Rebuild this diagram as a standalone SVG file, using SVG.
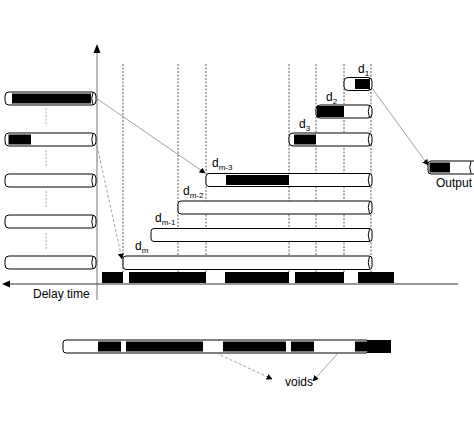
<svg xmlns="http://www.w3.org/2000/svg" width="474" height="435" viewBox="0 0 474 435">
<defs>
<style>
.tube{fill:#fff;stroke:#000;stroke-width:1}
.cap{fill:none;stroke:#000;stroke-width:1}
.blk{fill:#000}
.dot{stroke:#333;stroke-width:0.8;stroke-dasharray:2,1.5;fill:none}
.gdash{stroke:#999;stroke-width:0.8;stroke-dasharray:2,1.5;fill:none}
.conn{stroke:#888;stroke-width:0.8;fill:none}
.connd{stroke:#888;stroke-width:0.8;stroke-dasharray:3,2;fill:none}
.lbl{font-family:"Liberation Sans",Arial,sans-serif;font-size:12px;fill:#000}
.sub{font-size:8px}
</style>
<marker id="ah" viewBox="0 0 10 10" refX="9" refY="5" markerWidth="6" markerHeight="6" orient="auto" markerUnits="userSpaceOnUse">
<path d="M0,0 L10,5 L0,10 z" fill="#000"/>
</marker>
</defs>
<rect width="474" height="435" fill="#fff"/>

<g id="axes">
<line x1="97" y1="50" x2="97" y2="300" stroke="#777" stroke-width="1"/>
<path d="M93.5,53 L97,44 L100.5,53 z" fill="#000"/>
<line x1="8" y1="284" x2="458" y2="284" stroke="#333" stroke-width="1.2"/>
<path d="M10,280.5 L2,284 L10,287.5 z" fill="#000"/>
<text class="lbl" x="33" y="298" font-size="10.5">Delay time</text>
</g>

<g id="grid">
<line class="dot" x1="123" y1="64" x2="123" y2="272"/>
<line class="dot" x1="178" y1="64" x2="178" y2="272"/>
<line class="dot" x1="206" y1="64" x2="206" y2="272"/>
<line class="dot" x1="289" y1="64" x2="289" y2="272"/>
<line class="dot" x1="316" y1="64" x2="316" y2="272"/>
<line class="dot" x1="344" y1="64" x2="344" y2="272"/>
<line class="dot" x1="371" y1="64" x2="371" y2="272"/>
<line class="gdash" x1="46" y1="108" x2="46" y2="126"/>
<line class="gdash" x1="46" y1="150" x2="46" y2="166"/>
<line class="gdash" x1="46" y1="191" x2="46" y2="207"/>
<line class="gdash" x1="46" y1="233" x2="46" y2="249"/>
</g>

<g id="left-tube-1">
<rect class="tube" x="5" y="92" width="91" height="13" rx="4"/>
<rect class="blk" x="12" y="93.5" width="79" height="10"/>
<path class="cap" d="M93,92.5 Q90.5,98.5 93,104.5"/>
</g>
<g id="left-tube-2">
<rect class="tube" x="5" y="133" width="91" height="13" rx="4"/>
<rect class="blk" x="8.5" y="134.5" width="22.5" height="10"/>
<path class="cap" d="M93,133.5 Q90.5,139.5 93,145.5"/>
</g>
<g id="left-tube-3">
<rect class="tube" x="5" y="174" width="91" height="13" rx="4"/>
<path class="cap" d="M93,174.5 Q90.5,180.5 93,186.5"/>
</g>
<g id="left-tube-4">
<rect class="tube" x="5" y="215" width="91" height="13" rx="4"/>
<path class="cap" d="M93,215.5 Q90.5,221.5 93,227.5"/>
</g>
<g id="left-tube-5">
<rect class="tube" x="5" y="256" width="91" height="13" rx="4"/>
<path class="cap" d="M93,256.5 Q90.5,262.5 93,268.5"/>
</g>

<g id="d1">
<rect class="tube" x="344" y="77.5" width="28" height="13" rx="4"/>
<rect class="blk" x="355" y="79" width="15" height="10"/>
<path class="cap" d="M369.5,78 Q367,84 369.5,90"/>
<text class="lbl" x="358" y="73">d<tspan class="sub" dy="2.5">1</tspan></text>
</g>
<g id="d2">
<rect class="tube" x="316" y="105" width="56" height="13" rx="4" stroke="#555"/>
<rect class="blk" x="317" y="106" width="27" height="11"/>
<path class="cap" d="M369.5,105.5 Q367,111.5 369.5,117.5"/>
<text class="lbl" x="326" y="101">d<tspan class="sub" dy="2.5">2</tspan></text>
</g>
<g id="d3">
<rect class="tube" x="289" y="133" width="83" height="13" rx="4"/>
<rect class="blk" x="294" y="134.5" width="22" height="10"/>
<path class="cap" d="M369.5,133.5 Q367,139.5 369.5,145.5"/>
<text class="lbl" x="299" y="128">d<tspan class="sub" dy="2.5">3</tspan></text>
</g>
<g id="dm-3">
<rect class="tube" x="206" y="173.5" width="166" height="13" rx="3"/>
<rect class="blk" x="226" y="175" width="63" height="10"/>
<path class="cap" d="M369.5,174 Q367,180 369.5,186"/>
<text class="lbl" x="212" y="167">d<tspan class="sub" dy="2.5">m-3</tspan></text>
</g>
<g id="dm-2">
<rect class="tube" x="178" y="201" width="194" height="13" rx="3"/>
<path class="cap" d="M369.5,201.5 Q367,207.5 369.5,213.5"/>
<text class="lbl" x="183" y="195">d<tspan class="sub" dy="2.5">m-2</tspan></text>
</g>
<g id="dm-1">
<rect class="tube" x="151" y="228.5" width="221" height="13" rx="3"/>
<path class="cap" d="M369.5,229 Q367,235 369.5,241"/>
<text class="lbl" x="155" y="222">d<tspan class="sub" dy="2.5">m-1</tspan></text>
</g>
<g id="dm">
<rect class="tube" x="123" y="256" width="249" height="13.5" rx="3"/>
<path class="cap" d="M369.5,256.5 Q367,262.5 369.5,268.5"/>
<text class="lbl" x="135" y="250">d<tspan class="sub" dy="2.5">m</tspan></text>
</g>

<g id="output">
<rect class="tube" x="428" y="161" width="50" height="13" rx="3"/>
<rect class="blk" x="429.5" y="162.5" width="20.5" height="10"/>
<path class="cap" d="M471,161.5 Q468.5,167.5 471,173.5"/>
<text class="lbl" x="436" y="187" font-size="10">Output</text>
</g>

<g id="bars">
<rect class="blk" x="102" y="272" width="21" height="11"/>
<rect class="blk" x="129" y="272" width="77" height="11"/>
<rect class="blk" x="225" y="272" width="64" height="11"/>
<rect class="blk" x="295" y="272" width="49" height="11"/>
<rect class="blk" x="358" y="272" width="36" height="11"/>
</g>

<g id="stream">
<rect class="blk" x="355" y="340" width="36" height="13"/>
<rect class="tube" x="63" y="340" width="306" height="13" rx="3" stroke="#444"/>
<rect class="blk" x="98" y="341.5" width="23" height="10"/>
<rect class="blk" x="126" y="341.5" width="77" height="10"/>
<rect class="blk" x="223" y="341.5" width="63" height="10"/>
<rect class="blk" x="291" y="341.5" width="23" height="10"/>
<rect class="blk" x="355" y="341.5" width="14" height="10"/>
<path class="cap" d="M368,340.5 Q365.5,346.5 368,352.5" stroke="#444"/>
<text class="lbl" x="285" y="386" font-size="10.5">voids</text>
</g>

<g id="connectors">
<line class="conn" x1="96" y1="98" x2="205" y2="173" marker-end="url(#ah)"/>
<line class="connd" x1="96" y1="141" x2="122" y2="259" marker-end="url(#ah)"/>
<line class="conn" x1="372" y1="88" x2="428" y2="165" marker-end="url(#ah)"/>
<line class="connd" x1="216" y1="353" x2="272" y2="379" marker-end="url(#ah)"/>
<line class="conn" x1="339" y1="352" x2="313" y2="381" marker-end="url(#ah)"/>
</g>
</svg>
